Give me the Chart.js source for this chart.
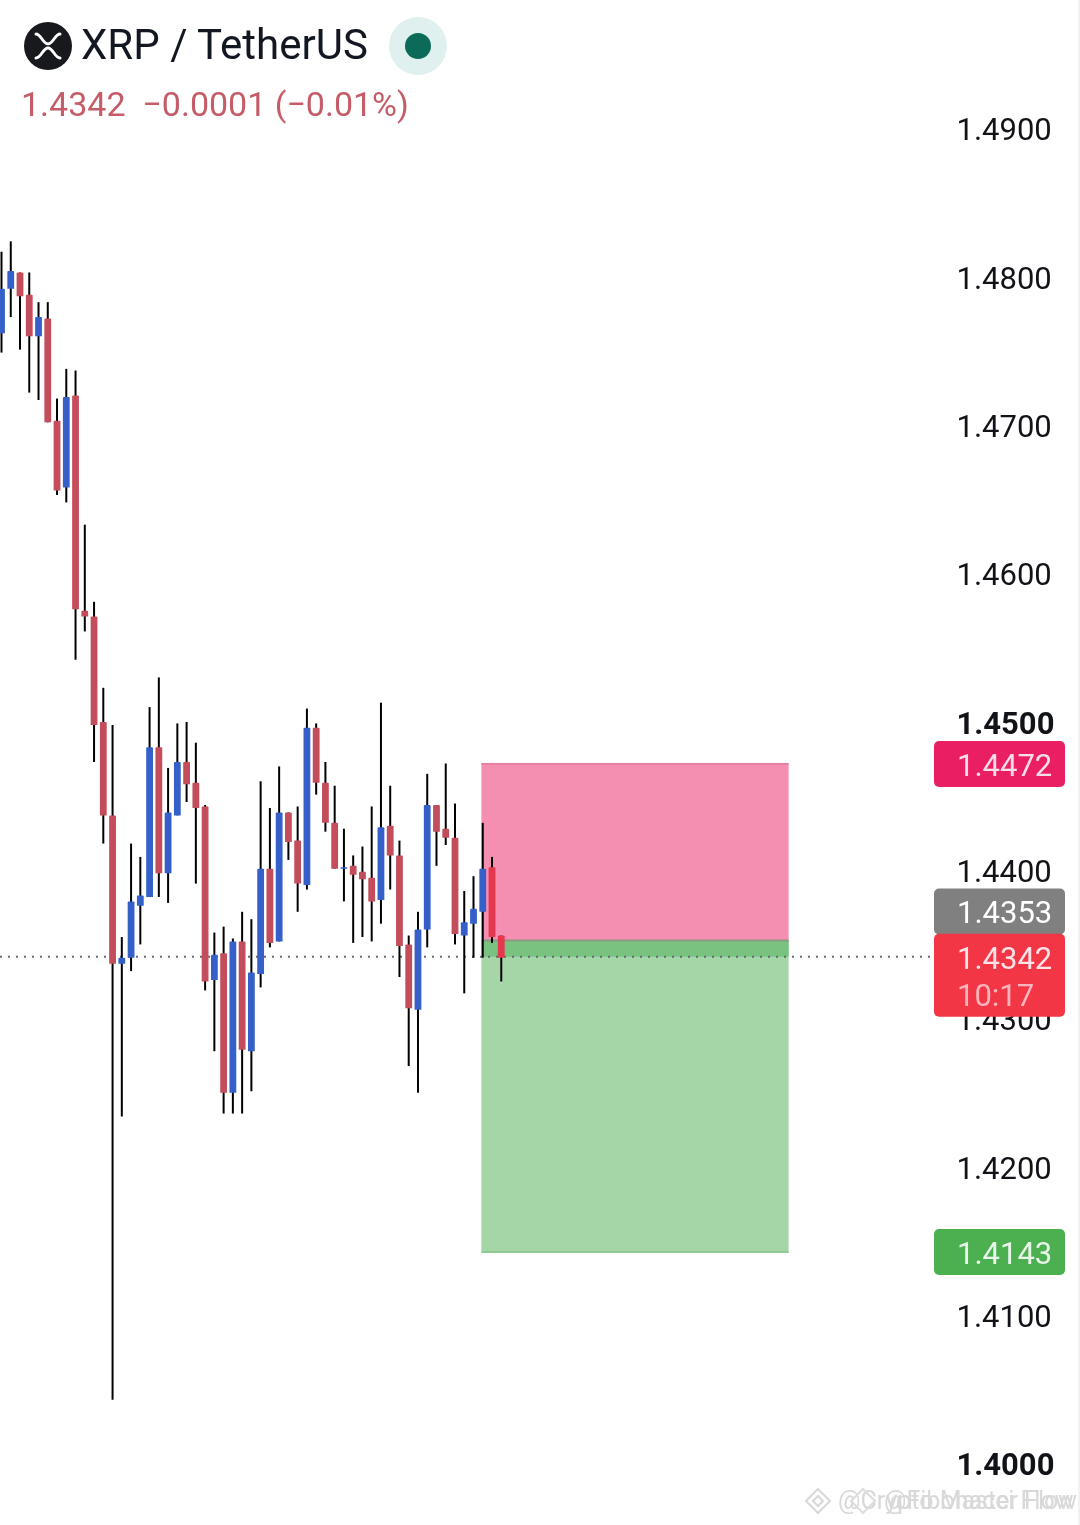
<!DOCTYPE html>
<html>
<head>
<meta charset="utf-8">
<title>XRP / TetherUS</title>
<script src="https://cdn.jsdelivr.net/npm/chart.js@4/dist/chart.umd.min.js"></script>
<style>
    html, body { margin: 0; padding: 0; background: #ffffff; }
    #wrap { position: relative; width: 1080px; height: 1525px; overflow: hidden; font-family: Roboto, sans-serif; }
    #priceChart { position: absolute; left: 0; top: 0; }
    #logo { position: absolute; left: 24px; top: 22px; }
    #title { position: absolute; left: 81px; top: 21px; font-size: 42px; line-height: 48px; color: #131722; white-space: nowrap; }
    #quote { position: absolute; left: 21px; top: 83.5px; font-size: 34px; line-height: 40px; color: #c65c68; white-space: pre; }
    #status { position: absolute; left: 389px; top: 17px; }
    #edge { position: absolute; left: 1078px; top: 0; width: 2px; height: 1525px; background: #f1f1f1; }
    .mark { position: absolute; top: 1489px; font-size: 25px; line-height: 24px; color: #d9d9d9; white-space: nowrap; }
</style>
</head>
<body>
<div id="wrap">
    <canvas id="priceChart" width="1080" height="1525"></canvas>
    <svg id="logo" width="48" height="48" viewBox="0 0 48 48">
        <circle cx="24" cy="24" r="24" fill="#17191d"/>
        <path d="M12 12 C17 12 19 22 24 22 C29 22 31 12 36 12 M12 36 C17 36 19 26 24 26 C29 26 31 36 36 36" fill="none" stroke="#ffffff" stroke-width="3" stroke-linecap="round"/>
    </svg>
    <div id="title">XRP / TetherUS</div>
    <div id="quote">1.4342  −0.0001 (−0.01%)</div>
    <svg id="status" width="58" height="58" viewBox="0 0 58 58">
        <circle cx="29" cy="29" r="29" fill="#dff0ee"/>
        <circle cx="29" cy="29" r="13" fill="#0b6b58"/>
    </svg>
    <div class="mark" style="left:838px">@Crypto Master Flow</div>
    <div class="mark" style="left:884px">@Fibonacci Flow</div>
    <svg style="position:absolute;left:804px;top:1487px" width="76" height="28" viewBox="0 0 76 28">
        <path d="M14 2 L26 14 L14 26 L2 14 Z M14 9 L19 14 L14 19 L9 14 Z" fill="none" stroke="#d8d8d8" stroke-width="2"/>
        <path d="M59 2 L71 14 L59 26 L47 14 Z" fill="none" stroke="#dddddd" stroke-width="2"/>
    </svg>
    <div id="edge"></div>
</div>
<script>
// Candles
const opens = [
    1.4763, 1.4793, 1.4804, 1.4789, 1.4761, 1.4773, 1.4704, 1.4659, 1.4721, 1.4576,
    1.4572, 1.4501, 1.4438, 1.4338, 1.4342, 1.4377, 1.4383, 1.4484, 1.4399, 1.4438,
    1.4474, 1.4460, 1.4444, 1.4327, 1.4345, 1.4251, 1.4353, 1.4279, 1.4331, 1.4402,
    1.4353, 1.4440, 1.4421, 1.4391, 1.4497, 1.4460, 1.4433, 1.4402, 1.4404, 1.4400,
    1.4396, 1.4381, 1.4431, 1.4411, 1.4351, 1.4307, 1.4361, 1.4445, 1.4429, 1.4423,
    1.4357, 1.4365, 1.4373, 1.4403, 1.4357
];
const closes = [
    1.4793, 1.4805, 1.4788, 1.4761, 1.4774, 1.4703, 1.4657, 1.4720, 1.4577, 1.4572,
    1.4499, 1.4438, 1.4338, 1.4342, 1.4380, 1.4384, 1.4484, 1.4399, 1.4440, 1.4474,
    1.4459, 1.4443, 1.4326, 1.4344, 1.4251, 1.4353, 1.4280, 1.4332, 1.4402, 1.4352,
    1.4440, 1.4420, 1.4392, 1.4497, 1.4460, 1.4433, 1.4402, 1.4403, 1.4398, 1.4395,
    1.4380, 1.4430, 1.4411, 1.4350, 1.4308, 1.4361, 1.4445, 1.4427, 1.4423, 1.4358,
    1.4366, 1.4375, 1.4402, 1.4356, 1.4342
];
const highs = [
    1.4818, 1.4825, 1.4804, 1.4804, 1.4784, 1.4784, 1.4719, 1.4739, 1.4738, 1.4634,
    1.4582, 1.4524, 1.4499, 1.4356, 1.4419, 1.4410, 1.4511, 1.4531, 1.4470, 1.4500,
    1.4501, 1.4487, 1.4445, 1.4359, 1.4363, 1.4355, 1.4373, 1.4368, 1.4461, 1.4443,
    1.4471, 1.4440, 1.4444, 1.4510, 1.4500, 1.4474, 1.4458, 1.4429, 1.4411, 1.4417,
    1.4444, 1.4514, 1.4458, 1.4421, 1.4357, 1.4373, 1.4466, 1.4445, 1.4473, 1.4446,
    1.4387, 1.4397, 1.4433, 1.4410, 1.4357
];
const lows = [
    1.4750, 1.4774, 1.4752, 1.4723, 1.4718, 1.4703, 1.4654, 1.4649, 1.4543, 1.4562,
    1.4474, 1.4419, 1.4044, 1.4235, 1.4333, 1.4351, 1.4383, 1.4383, 1.4379, 1.4438,
    1.4447, 1.4392, 1.4320, 1.4279, 1.4237, 1.4237, 1.4237, 1.4252, 1.4322, 1.4349,
    1.4353, 1.4408, 1.4373, 1.4388, 1.4452, 1.4427, 1.4402, 1.4380, 1.4352, 1.4356,
    1.4353, 1.4365, 1.4388, 1.4329, 1.4269, 1.4251, 1.4349, 1.4404, 1.4418, 1.4351,
    1.4318, 1.4342, 1.4342, 1.4352, 1.4326
];

const boldTicks = ['1.4500', '1.4000'];

// Short position tool
const entryPrice = 1.4353;
const stopPrice = 1.4472;
const targetPrice = 1.4143;
const lastPrice = 1.4342;
const toolStartBar = 51.85;
const toolEndBar = 85.05;
const countdown = '10:17';

const chartColors = {
    up: '#3560c9',
    down: '#c44d5b',
    live: '#e6374f',
    wick: '#000000',
    text: '#111318',
    stopZone: '#f48fb1',
    stopLine: '#e57fa4',
    targetZone: '#a5d6a7',
    targetLine: '#8fca92',
    openZone: '#79c280',
    entryLine: '#8c9a80',
    dotted: '#66686f'
};

// Price tags on the axis, dy moves a tag away from its level so they do not overlap
const priceTags = [
    { value: stopPrice, text: '1.4472', color: '#e91e63', textColor: '#fbdde8', dy: 0, height: 46 },
    { value: targetPrice, text: '1.4143', color: '#4caf50', textColor: '#e8f5e9', dy: 0, height: 46 },
    { value: entryPrice, text: '1.4353', color: '#808080', textColor: '#ffffff', dy: -29, height: 46 },
    { value: lastPrice, text: '1.4342', color: '#f23645', textColor: '#ffe3e6', dy: 0, height: 83, sub: countdown }
];

function barColor(i) {
    if (i >= opens.length - 2) return chartColors.live;
    return closes[i] >= opens[i] ? chartColors.up : chartColors.down;
}

// The tool sits a pixel above the candle scale in the screenshot
function levelY(chart, value) {
    return chart.scales.y.getPixelForValue(value) - 1;
}

function fillZone(chart, from, to, color) {
    const x = chart.scales.x;
    const left = x.getPixelForValue(toolStartBar);
    const right = x.getPixelForValue(toolEndBar);
    const top = levelY(chart, from);
    chart.ctx.fillStyle = color;
    chart.ctx.fillRect(left, top, right - left, levelY(chart, to) - top);
}

function lineZone(chart, value, color) {
    const x = chart.scales.x;
    const left = x.getPixelForValue(toolStartBar);
    chart.ctx.fillStyle = color;
    chart.ctx.fillRect(left, levelY(chart, value) - 1, x.getPixelForValue(toolEndBar) - left, 2);
}

// Zones and the last price line go under the candles
const positionTool = {
    id: 'positionTool',
    beforeDatasetsDraw(chart) {
        const ctx = chart.ctx;
        const y = levelY(chart, lastPrice);
        fillZone(chart, stopPrice, entryPrice, chartColors.stopZone);
        fillZone(chart, entryPrice, targetPrice, chartColors.targetZone);
        fillZone(chart, entryPrice, lastPrice, chartColors.openZone);
        lineZone(chart, stopPrice, chartColors.stopLine);
        lineZone(chart, targetPrice, chartColors.targetLine);
        lineZone(chart, entryPrice, chartColors.entryLine);
        ctx.save();
        ctx.strokeStyle = chartColors.dotted;
        ctx.lineWidth = 2;
        ctx.setLineDash([2, 6]);
        ctx.beginPath();
        ctx.moveTo(0, y);
        ctx.lineTo(932, y);
        ctx.stroke();
        ctx.restore();
    }
};

// Tags are painted last, they cover the axis labels
const axisTags = {
    id: 'axisTags',
    afterDraw(chart) {
        const ctx = chart.ctx;
        ctx.save();
        priceTags.forEach(tag => {
            const center = chart.scales.y.getPixelForValue(tag.value) + tag.dy;
            const top = tag.sub ? center - 24 : center - tag.height / 2 - 1;
            ctx.fillStyle = tag.color;
            ctx.beginPath();
            ctx.roundRect(934, top, 131, tag.height, 5);
            ctx.fill();
            ctx.font = '31px Roboto';
            ctx.textBaseline = 'middle';
            ctx.textAlign = 'left';
            ctx.fillStyle = tag.textColor;
            ctx.fillText(tag.text, 957, center + 3);
            if (tag.sub) {
                ctx.fillStyle = '#ffb3ba';
                ctx.fillText(tag.sub, 957, center + 40);
            }
        });
        ctx.restore();
    }
};

const xValues = opens.map((_, i) => i);

new Chart(document.getElementById('priceChart'), {
    type: 'bar',
    data: {
        datasets: [
            {
                label: 'Body',
                data: xValues.map(i => ({ x: i, y: [opens[i], closes[i]] })),
                backgroundColor: xValues.map(barColor),
                barThickness: 6.8,
                borderRadius: 1,
                inflateAmount: 0,
                grouped: false,
                clip: false
            },
            {
                label: 'Wick',
                data: xValues.map(i => ({ x: i, y: [lows[i], highs[i]] })),
                backgroundColor: chartColors.wick,
                barThickness: 2,
                inflateAmount: 0,
                grouped: false,
                clip: false
            }
        ]
    },
    options: {
        responsive: false,
        animation: false,
        devicePixelRatio: 1,
        layout: { padding: { left: 1.5, right: 0, top: 0, bottom: 0 } },
        plugins: {
            legend: { display: false },
            tooltip: { enabled: false },
            title: { display: false }
        },
        scales: {
            x: {
                type: 'linear',
                display: false,
                offset: false,
                min: 0,
                max: 102
            },
            y: {
                position: 'right',
                min: 1.39596,
                max: 1.49877,
                afterFit(scale) {
                    scale.width = 134.5;
                    scale.paddingTop = 0;
                    scale.paddingBottom = 0;
                },
                grid: { display: false, drawTicks: false },
                border: { display: false },
                ticks: {
                    stepSize: 0.01,
                    includeBounds: false,
                    autoSkip: false,
                    padding: 11,
                    labelOffset: 2.5,
                    color: chartColors.text,
                    font: ctx => ({
                        family: 'Roboto',
                        size: 31,
                        weight: ctx.tick && boldTicks.includes(ctx.tick.value.toFixed(4)) ? 'bold' : 'normal'
                    }),
                    callback: value => value.toFixed(4)
                }
            }
        }
    },
    plugins: [positionTool, axisTags]
});
</script>
</body>
</html>
